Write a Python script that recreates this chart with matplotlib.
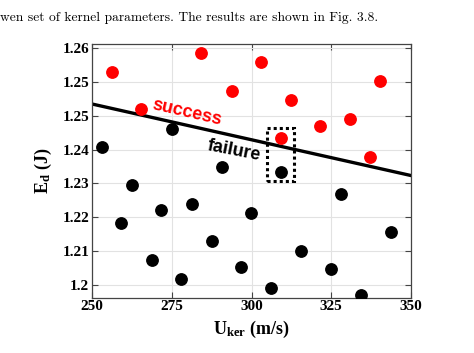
import numpy as np
import matplotlib.pyplot as plt
from matplotlib.patches import Rectangle

# %% data
succ_u = [256.2, 265.5, 284.3, 293.8, 303.0, 309.2, 312.4, 321.6, 331.0, 337.3, 340.4]
succ_e = [1.2539, 1.2445, 1.2587, 1.2491, 1.2564, 1.2373, 1.2467, 1.2403, 1.2420, 1.2324, 1.2515]

fail_u = [253.0, 259.2, 262.5, 268.7, 271.7, 275.0, 278.0, 281.4, 287.6, 290.6,
          296.7, 299.9, 306.0, 309.2, 315.5, 324.9, 328.0, 334.4, 343.8]
fail_e = [1.2348, 1.2157, 1.2253, 1.2063, 1.2190, 1.2395, 1.2015, 1.2205, 1.2111, 1.2299,
          1.2046, 1.2182, 1.1992, 1.2287, 1.2086, 1.2040, 1.2230, 1.1975, 1.2133]

# decision boundary end points
line_u = [250, 350]
line_e = [1.2458, 1.2277]

# highlighted pair
box_u = [304.8, 313.4]
box_e = [1.2262, 1.2397]

xticks = [250, 275, 300, 325, 350]
yticks = np.linspace(1.2, 1.26, 8)
ylabels = ['1.2', '1.21', '1.22', '1.23', '1.24', '1.25', '1.25', '1.26']

# %% plot
plt.rcParams['mathtext.fontset'] = 'custom'
plt.rcParams['mathtext.bf'] = 'Liberation Serif:bold'
plt.rcParams['mathtext.rm'] = 'Liberation Serif'

fig = plt.figure(figsize=(4.74, 3.53), dpi=100)
ax = fig.add_axes([0.1941, 0.1567, 0.673, 0.7178])

ax.plot(fail_u, fail_e, 'o', color='k', ms=8.2, zorder=3)
ax.plot(succ_u, succ_e, 'o', color='#ff0000', ms=8.2, zorder=3)
ax.plot(line_u, line_e, '-', color='k', lw=2.4, zorder=2)

ax.add_patch(Rectangle((box_u[0], box_e[0]), box_u[1] - box_u[0], box_e[1] - box_e[0],
                       fill=False, ls=(0, (1, 1)), lw=2.2, color='k', zorder=4))

ax.text(279.8, 1.2437, 'success', color='#ff0000', fontsize=13, fontweight='bold',
        family='Liberation Sans', rotation=-13, ha='center', va='center')
ax.text(294.5, 1.2340, 'failure', color='k', fontsize=13, fontweight='bold',
        family='Liberation Sans', rotation=-11, ha='center', va='center')

ax.set_xlim(250, 350)
ax.set_ylim(1.1968, 1.2609)
ax.set_xticks(xticks)
ax.set_xticklabels([str(t) for t in xticks])
ax.set_yticks(yticks)
ax.set_yticklabels(ylabels)
for lab in ax.get_xticklabels() + ax.get_yticklabels():
    lab.set_family('Liberation Serif')
    lab.set_fontweight('bold')
    lab.set_fontsize(11)

ax.tick_params(direction='in', top=True, right=True, length=4, width=0.8,
               color='#444444', pad=2)
ax.grid(True, color='#e2e2e2', lw=0.8)
ax.set_axisbelow(True)
for s in ax.spines.values():
    s.set_color('#444444')
    s.set_linewidth(0.9)

ax.set_xlabel(r'$\mathbf{U_{ker}}$ (m/s)', family='Liberation Serif', fontweight='bold',
              fontsize=13, labelpad=4)
ax.set_ylabel(r'$\mathbf{E_{d}}$ (J)', family='Liberation Serif', fontweight='bold',
              fontsize=13, labelpad=6)

fig.text(0.0, 0.948, 'wen set of kernel parameters. The results are shown in Fig. 3.8.',
         family='cmr10', fontsize=9.7, ha='left', va='center')

plt.savefig('out.png', dpi=100)
